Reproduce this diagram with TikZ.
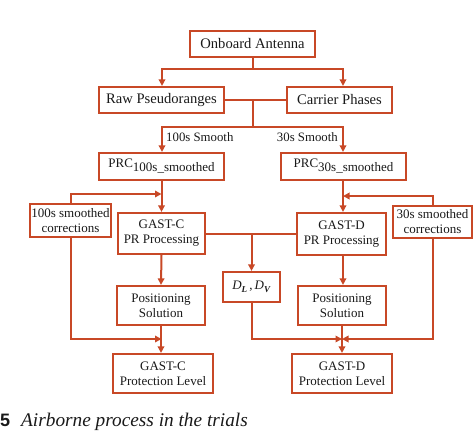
\documentclass[tikz,border=0pt]{standalone}
\usepackage{fontspec}
\setmainfont{Liberation Serif}
\setsansfont{Liberation Sans}
\usetikzlibrary{arrows.meta,calc}
\definecolor{boxred}{RGB}{200,72,38}
\definecolor{txt}{RGB}{25,25,25}
\tikzset{
  box/.style={draw=boxred, line width=2.2pt, align=center, inner sep=0pt, text=txt,
              font=\fontsize{13}{15}\selectfont},
  bigbox/.style={box, font=\fontsize{14.6}{17}\selectfont},
  conn/.style={draw=boxred, line width=2pt},
  arr/.style={conn, -{Triangle[length=6.5pt,width=6.5pt]}},
  lbl/.style={text=txt, inner sep=0pt, font=\fontsize{12.8}{15}\selectfont}
}
\begin{document}
\begin{tikzpicture}[x=1pt,y=-1pt]
\useasboundingbox (0,0) rectangle (474,434);
% boxes
\node[bigbox, minimum width=125pt, minimum height=26pt] (ant) at (252.5,44) {Onboard Antenna};
\node[bigbox, minimum width=125pt, minimum height=26pt] (raw) at (161.5,100) {Raw Pseudoranges};
\node[bigbox, minimum width=105pt, minimum height=26pt] (car) at (339.5,100) {Carrier Phases};
\node[box, minimum width=125pt, minimum height=27pt] (prc1) at (161.5,166.5) {PRC\raisebox{-4pt}{100s\_smoothed}};
\node[box, minimum width=125pt, minimum height=27pt] (prc2) at (343.5,166.5) {PRC\raisebox{-4pt}{30s\_smoothed}};
\node[box, minimum width=81pt, minimum height=33pt] (corr1) at (70.5,220.5) {100s smoothed\\corrections};
\node[box, minimum width=87pt, minimum height=41pt] (gastc) at (161.5,233.5) {GAST-C\\PR Processing};
\node[box, minimum width=89pt, minimum height=42pt] (gastd) at (341.5,234) {GAST-D\\PR Processing};
\node[box, minimum width=79pt, minimum height=32pt] (corr2) at (432.5,222) {30s smoothed\\corrections};
\node[box, minimum width=57pt, minimum height=30pt] (dl) at (251.5,287) {\textit{D}\raisebox{-2.5pt}{\fontsize{9}{10}\selectfont\textit{\textbf{L}}}\,,\,\textit{D}\raisebox{-2.5pt}{\fontsize{9}{10}\selectfont\textit{\textbf{V}}}};
\node[box, minimum width=88pt, minimum height=39pt] (pos1) at (161,305.5) {Positioning\\Solution};
\node[box, minimum width=88pt, minimum height=39pt] (pos2) at (342,305.5) {Positioning\\Solution};
\node[box, minimum width=100pt, minimum height=39pt] (pl1) at (163,373.5) {GAST-C\\Protection Level};
\node[box, minimum width=100pt, minimum height=39pt] (pl2) at (342,373.5) {GAST-D\\Protection Level};
% junction coordinates
\coordinate (cL) at (162,0);
\coordinate (cR) at (343,0);
\coordinate (j1) at (252.5,69);
\coordinate (j2) at (252.5,100);
\coordinate (j3) at (252.5,127);
\coordinate (f1) at (161.5,194);
\coordinate (f2) at (343,196);
\coordinate (b1) at (161.5,339);
\coordinate (b2) at (342,339);
% top tree
\draw[conn] (ant.south) -- (j1);
\draw[arr] (j1) -| (raw.north -| cL);
\draw[arr] (j1) -| (car.north -| cR);
\draw[conn] (raw.east) -- (car.west);
\draw[conn] (j2) -- (j3);
\draw[arr] (j3) -| (prc1.north -| cL);
\draw[arr] (j3) -| (prc2.north -| cR);
\node[lbl, anchor=west] (s1) at (166,137) {100s Smooth};
\node[lbl, anchor=east] (s2) at (338,137) {30s Smooth};
% middle
\draw[arr] (prc1.south) -- (gastc.north);
\draw[arr] (prc2.south -| cR) -- (gastd.north -| cR);
\draw[arr] (corr1.north) |- (f1);
\draw[arr] (corr2.north) |- (f2);
\draw[conn] (gastc.east) -- (gastc.east -| gastd.west);
\draw[arr] (gastc.east -| dl.north) -- (dl.north);
\draw[arr] (gastc.south) -- (pos1.north);
\draw[arr] (gastd.south -| cR) -- (pos2.north -| cR);
% bottom
\draw[arr] (pos1.south) -- (pl1.north -| pos1.south);
\draw[arr] (pos2.south) -- (pl2.north);
\draw[arr] (corr1.south) |- (b1);
\draw[arr] (dl.south) |- (b2);
\draw[arr] (corr2.south) |- (b2);
% caption
\node[anchor=base west, inner sep=0pt, text=txt, font=\sffamily\bfseries\fontsize{18}{20}\selectfont] (num) at (0,426) {5};
\node[anchor=base west, inner sep=0pt, text=txt, font=\itshape\fontsize{19.3}{22}\selectfont] (cap) at (21,426) {Airborne process in the trials};
\end{tikzpicture}
\end{document}
